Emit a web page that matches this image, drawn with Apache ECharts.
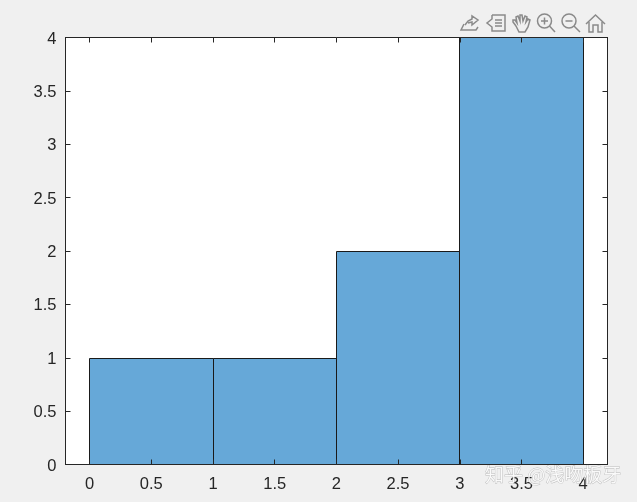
<!DOCTYPE html>
<html><head><meta charset="utf-8">
<style>html,body{margin:0;padding:0;background:#f0f0f0}#c{width:637px;height:502px}</style>
<script src="https://cdn.jsdelivr.net/npm/echarts@6/dist/echarts.min.js"></script>
</head><body><div id="c"></div>
<script>
const binEdgesStart = [0, 1, 2, 3];
const binEdgesEnd = [1, 2, 3, 4];
const counts = [1, 1, 2, 4];
const xTicks = [0, 0.5, 1, 1.5, 2, 2.5, 3, 3.5, 4];
const yTicks = [0, 0.5, 1, 1.5, 2, 2.5, 3, 3.5, 4];
const watermark = '知乎 @浅吻板牙';

const ink = '#262626', fontFamily = '"Liberation Sans", Arial, sans-serif';
const chart = echarts.init(document.getElementById('c'), null, {renderer: 'canvas'});
const fmt = v => String(v);
const xBase = {type: 'value', min: -0.195, max: 4.197, splitLine: {show: false}, z: 10,
  axisLine: {show: true, onZero: false, lineStyle: {color: ink, width: 1}}};
const yBase = {type: 'value', min: 0, max: 4, splitLine: {show: false}, z: 10,
  axisLine: {show: true, onZero: false, lineStyle: {color: ink, width: 1}}};
const tick = v => ({show: true, inside: true, length: 5, customValues: v, lineStyle: {color: ink, width: 1}});
const label = v => ({show: true, customValues: v, formatter: fmt, color: ink, fontSize: 16.5, fontFamily});

const gray = '#8a8a8a';
const iconStyle = {fill: 'none', stroke: gray, lineWidth: 1.5};
const poly = pts => ({type: 'polyline', silent: true, z: 30, shape: {points: pts}, style: iconStyle});
const ring = (cx, cy, r) => ({type: 'circle', silent: true, z: 30, shape: {cx, cy, r}, style: iconStyle});

chart.setOption({
  animation: false,
  backgroundColor: '#f0f0f0',
  grid: {left: 65.5, right: 29.5, top: 37.5, bottom: 37.5, containLabel: false, show: true, backgroundColor: '#ffffff', borderWidth: 0},
  xAxis: [
    Object.assign({}, xBase, {position: 'bottom', axisTick: tick(xTicks), axisLabel: Object.assign(label(xTicks), {margin: 11})}),
    Object.assign({}, xBase, {position: 'top', axisTick: tick(xTicks), axisLabel: {show: false}})
  ],
  yAxis: [
    Object.assign({}, yBase, {position: 'left', axisTick: tick(yTicks), axisLabel: Object.assign(label(yTicks), {margin: 9, verticalAlign: 'top', lineHeight: 3})}),
    Object.assign({}, yBase, {position: 'right', axisTick: tick(yTicks), axisLabel: {show: false}})
  ],
  series: [{
    type: 'custom',
    xAxisIndex: 0, yAxisIndex: 0,
    clip: true,
    data: counts.map((c, i) => [binEdgesStart[i], binEdgesEnd[i], c]),
    encode: {x: [0, 1], y: 2},
    renderItem(params, api) {
      const a = api.coord([api.value(0), 0]);
      const b = api.coord([api.value(1), api.value(2)]);
      const x0 = Math.floor(a[0] + 0.1) + 0.5, x1 = Math.floor(b[0] + 0.1) + 0.5;
      const y0 = Math.round(a[1] - 0.01) + 0.5, y1 = Math.round(b[1] - 0.01) + 0.5;
      return {type: 'rect',
        shape: {x: x0, y: y1, width: x1 - x0, height: y0 - y1},
        style: {fill: '#66a8d8', stroke: '#1a1a1a', lineWidth: 1}};
    }
  }],
  graphic: [
    // save / edit
    poly([[464,24],[461,30],[476,30],[478,27]]),
    poly([[465,25],[468,21],[472,19],[472,16],[478,20],[472,25],[472,22],[468,23]]),
    // legend box
    poly([[492,15],[505,15],[505,31],[492,31],[492,27],[487,23],[492,19],[492,15]]),
    poly([[495,20],[502,20]]), poly([[495,23],[502,23]]), poly([[495,26],[502,26]]),
    // hand
    poly([[516,26],[513,22],[513,20],[515,20],[517,23],[516,17],[518,16],[520,21],[520,15],[522,15],[523,21],[525,16],[527,17],[526,22],[528,19],[530,20],[528,27],[525,32],[519,32],[516,26]]),
    // zoom in
    ring(544.5, 21, 7), poly([[549.5,26],[555,32]]), poly([[541,21],[548,21]]), poly([[544.5,17.5],[544.5,24.5]]),
    // zoom out
    ring(569, 21, 7), poly([[574,26],[580,32]]), poly([[565.5,21],[572.5,21]]),
    // home
    poly([[586,24],[595.5,15],[605,24]]),
    poly([[589,22],[589,32],[593,32],[593,25],[598,25],[598,32],[602,32],[602,22]]),
    {type: 'text', silent: true, z: 40, x: 485, y: 465,
      style: {text: watermark, fill: 'rgba(255,255,255,0.85)', fontSize: 19,
        fontFamily: '"Noto Sans CJK SC", sans-serif',
        stroke: 'rgba(120,120,120,0.45)', lineWidth: 0.8}}
  ]
});
</script></body></html>
